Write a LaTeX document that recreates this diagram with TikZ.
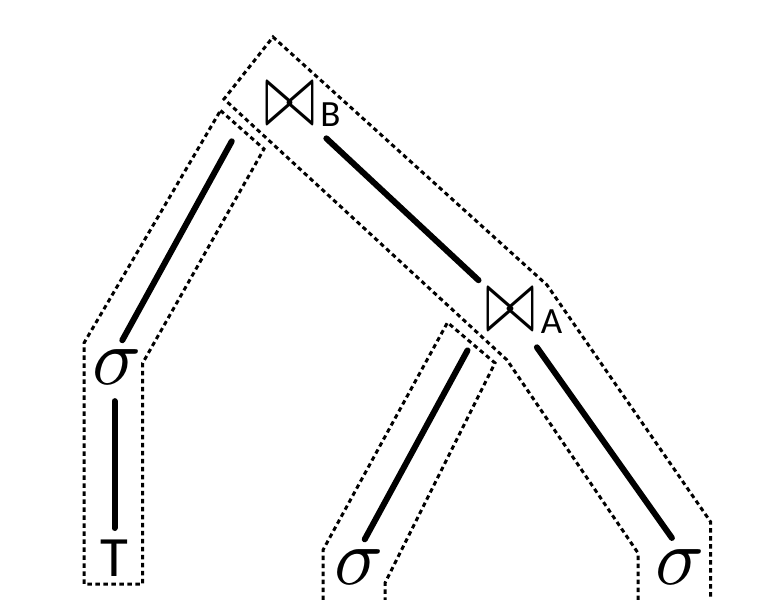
\documentclass[tikz,border=0pt]{standalone}
\usepackage{amsmath}
\usepackage{graphicx}
\usepackage{fontspec}
\usepackage{tikz}
\newfontfamily\labelfont{Carlito}
\newcommand{\joinsym}{\makebox[42pt]{\resizebox*{50pt}{42pt}{$\bowtie$}}}
\newcommand{\selsym}{\scalebox{8.1}{$\sigma$}}
\tikzset{
	op/.style={inner sep=0pt, outer sep=0pt},
	sub/.style={inner sep=0pt, font=\labelfont\fontsize{37}{37}\selectfont},
	rel/.style={inner sep=0pt, font=\labelfont\fontsize{57}{57}\selectfont},
	sel/.style={inner sep=0pt},
	edge/.style={line width=6pt, line cap=round},
	band/.style={line width=3pt, dash pattern=on 4.5pt off 3.5pt}
}

\begin{document}
\begin{tikzpicture}[x=1pt, y=-1pt]
			\useasboundingbox (0,0) rectangle (772,600);

			% operators
		  	\node[op] (jB) at (290,104.5) {\joinsym};
		  	\node[sub] (lB) at (330.5,115) {B};
		  	\node[op] (jA) at (510.5,310) {\joinsym};
		  	\node[sub] (lA) at (551.5,321.5) {A};
		  	\node[sel] (sL) at (117,367.5) {\selsym};
		  	\node[sel] (sM) at (359,567.5) {\selsym};
		  	\node[sel] (sR) at (680,567) {\selsym};
		  	\node[rel] (T) at (114.5,558.5) {T};

		  	% edges
		  	\draw[edge, shorten <=21pt, shorten >=15pt] (jB) -- (jA);
		  	\draw[edge, shorten <=42pt, shorten >=11pt] ([xshift=-17pt]jB.west) -- (sL.north);
		  	\draw[edge, shorten <=16pt, shorten >=12pt] (T.north |- sL.south) -- (T.north);
		  	\draw[edge, shorten <=46pt, shorten >=12pt] (jA.west) -- (sM.north);
		  	\draw[edge, shorten <=20pt, shorten >=14pt] (jA) -- (sR.north);

		  	% bands
		  	\draw[band] (638,600) -- (638,553) -- (507,360) -- (224,99) -- (273,37) -- (547,285) -- (710.7,522) -- (710.7,600);
		  	\draw[band] (220.5,110.5) -- (264,149) -- (142.7,363) -- (142.7,584) -- (84,584) -- (84,343) -- cycle;
		  	\draw[band] (323,600) -- (323,550) -- (447.5,322.5) -- (495,363) -- (385,583) -- (385,600);
		  \end{tikzpicture}
\end{document}
